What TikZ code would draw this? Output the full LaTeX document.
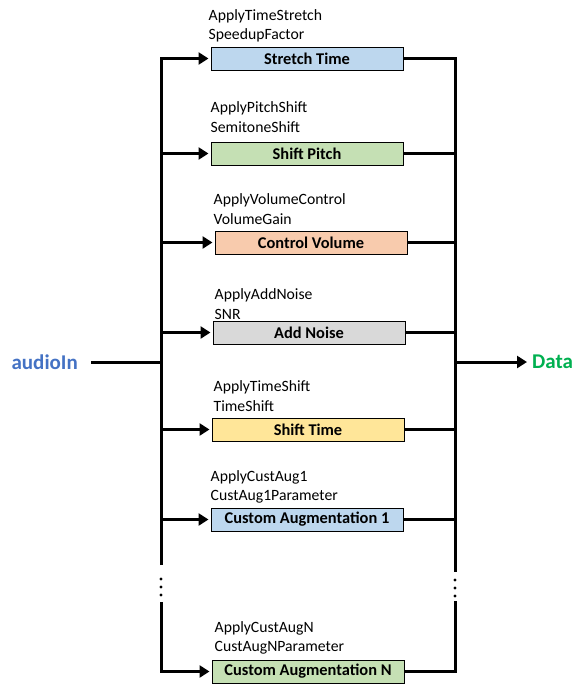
\documentclass[tikz,border=0pt]{standalone}
\usepackage{fontspec}
\setmainfont{Carlito}
\usepackage{tikz}
\usetikzlibrary{arrows.meta, positioning, calc}
\definecolor{augblue}{RGB}{189,215,238}
\definecolor{auggreen}{RGB}{197,224,180}
\definecolor{augpeach}{RGB}{248,203,173}
\definecolor{auggray}{RGB}{217,217,217}
\definecolor{augyellow}{RGB}{255,230,153}
\definecolor{inblue}{RGB}{68,114,196}
\definecolor{outgreen}{RGB}{0,176,80}

\begin{document}
\begin{tikzpicture}[
    x=1pt, y=-1pt,
    aug/.style={rectangle, draw, line width=1pt, minimum width=192pt, minimum height=23pt, inner sep=0pt, font=\fontsize{16.4}{18}\selectfont\bfseries},
    param/.style={anchor=south west, align=left, inner sep=0pt, font=\fontsize{15.7}{19.5}\selectfont},
    sig/.style={inner sep=0pt, font=\fontsize{21}{24}\selectfont\bfseries},
    wire/.style={line width=3pt},
    arr/.style={wire, -{Triangle[length=10pt, width=12pt]}, shorten >=2pt},
]
\useasboundingbox (0,0) rectangle (585,689);

\node[aug, fill=augblue] (stretch) at (307,58.5) {Stretch Time};
\node[aug, fill=auggreen, below=71pt of stretch] (pitch) {Shift Pitch};
\node[aug, fill=augpeach, below=65pt of pitch, xshift=4pt] (volume) {Control Volume};
\node[aug, fill=auggray, below=66pt of volume, xshift=-2pt] (noise) {Add Noise};
\node[aug, fill=augyellow, below=73pt of noise, xshift=-1pt] (tshift) {Shift Time};
\node[aug, fill=augblue, below=66pt of tshift, xshift=-1pt] (cust1) {Custom Augmentation 1};
\node[aug, fill=auggreen, below=128pt of cust1, xshift=1pt] (custn) {Custom Augmentation N};

\node[param] (stretchp) at ([xshift=-2pt, yshift=4pt]stretch.north west) {ApplyTimeStretch\\SpeedupFactor};
\node[param] (pitchp) at ([yshift=9pt]pitch.north west) {ApplyPitchShift\\SemitoneShift};
\node[param] (volumep) at ([xshift=-1pt, yshift=6pt]volume.north west) {ApplyVolumeControl\\VolumeGain};
\node[param] (noisep) at ([xshift=2pt, yshift=1pt]noise.north west) {ApplyAddNoise\\SNR};
\node[param] (tshiftp) at ([xshift=2pt, yshift=6pt]tshift.north west) {ApplyTimeShift\\TimeShift};
\node[param] (cust1p) at ([yshift=4pt]cust1.north west) {ApplyCustAug1\\CustAug1Parameter};
\node[param] (custnp) at ([xshift=3pt, yshift=5pt]custn.north west) {ApplyCustAugN\\CustAugNParameter};

% buses
\coordinate (lbus) at (161,362);
\coordinate (rbus) at (455,362);
\coordinate (ltop) at (161,565);
\coordinate (lbot) at (161,602);
\coordinate (rtop) at (455,572);
\coordinate (rbot) at (455,601);

\node[sig, text=inblue, left=83pt of lbus] (audioin) {audioIn};
\node[sig, text=outgreen, right=77pt of rbus] (data) {Data};

\draw[wire] ([xshift=13pt]audioin.east) -- (lbus);
\draw[arr] (rbus) -- ([xshift=-3pt]data.west);

\draw[arr] (ltop) |- (stretch.west);
\draw[arr] (lbot) |- (custn.west);
\draw[arr] (pitch.west -| ltop) -- (pitch.west);
\draw[arr] (volume.west -| ltop) -- (volume.west);
\draw[arr] (noise.west -| ltop) -- (noise.west);
\draw[arr] (tshift.west -| ltop) -- (tshift.west);
\draw[arr] (cust1.west -| ltop) -- (cust1.west);

\draw[wire] (stretch.east) -| (rtop);
\draw[wire] (custn.east) -| (rbot);
\draw[wire] (pitch.east) -- (pitch.east -| rtop);
\draw[wire] (volume.east) -- (volume.east -| rtop);
\draw[wire] (noise.east) -- (noise.east -| rtop);
\draw[wire] (tshift.east) -- (tshift.east -| rtop);
\draw[wire] (cust1.east) -- (cust1.east -| rtop);

% dots
\foreach \y in {579,587,595} {
    \fill (161,\y) circle (1.6pt);
    \fill (455,\y+1) circle (1.6pt);
}
\end{tikzpicture}
\end{document}
